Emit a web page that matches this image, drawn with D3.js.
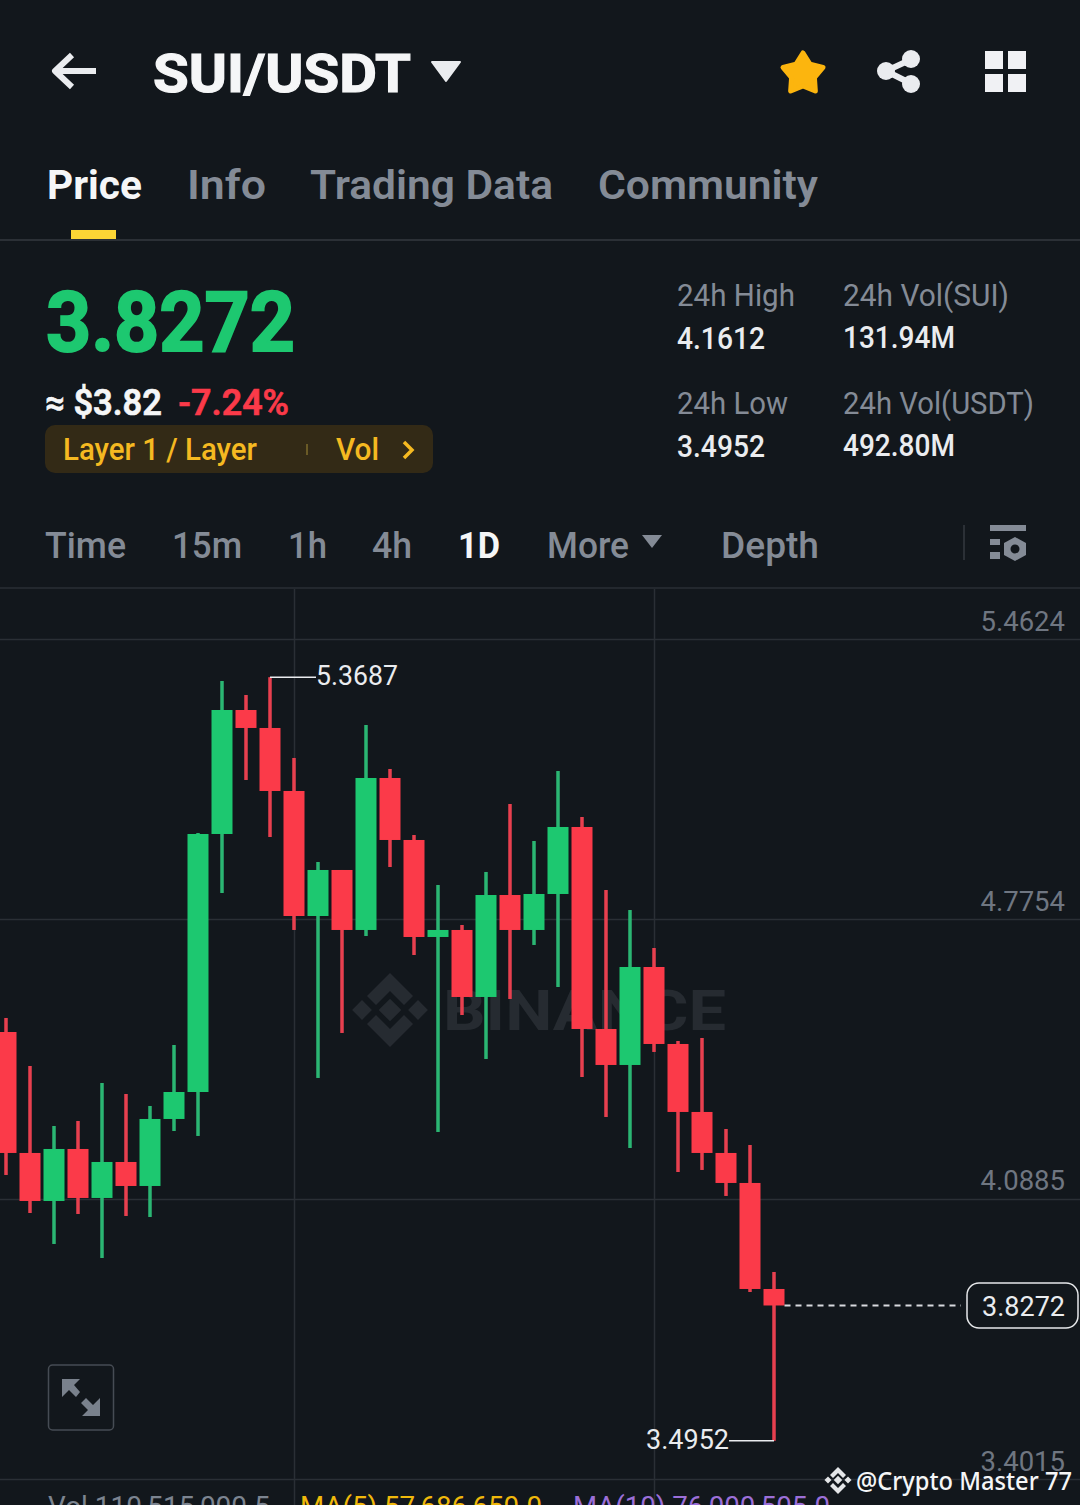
<!DOCTYPE html>
<html>
<head>
<meta charset="utf-8">
<script src="https://cdn.jsdelivr.net/npm/d3@7"></script>
<style>
html, body { margin: 0; padding: 0; background: #12171c; overflow: hidden; }
svg { display: block; }
text { font-family: Roboto, sans-serif; }
</style>
</head>
<body>
<svg></svg>
<script>
// prices, one entry per daily candle, left to right
const candleOpen = [4.4982, 4.2014, 4.0836, 4.2112, 4.0910, 4.1793, 4.1204, 4.2848, 4.3510, 4.9840, 5.2882, 5.2441, 5.0895,
  4.7828, 4.8957, 4.7485, 5.1214, 4.9693, 4.7313, 4.7485, 4.5841, 4.8343, 4.7485, 4.8368, 5.0012, 4.5056, 4.4173,
  4.6577, 4.4688, 4.3020, 4.2014, 4.1278, 3.8677];
const candleClose = [4.2014, 4.0836, 4.2112, 4.0910, 4.1793, 4.1204, 4.2848, 4.3510, 4.9840, 5.2882, 5.2441, 5.0895, 4.7828,
  4.8957, 4.7485, 5.1214, 4.9693, 4.7313, 4.7485, 4.5841, 4.8343, 4.7485, 4.8368, 5.0012, 4.5056, 4.4173, 4.6577,
  4.4688, 4.3020, 4.2014, 4.1278, 3.8677, 3.8272];
const candleHigh = [4.5326, 4.4148, 4.2676, 4.2799, 4.3731, 4.3461, 4.3167, 4.4663, 4.9864, 5.3594, 5.3250, 5.3687, 5.1705,
  4.9153, 4.8957, 5.2514, 5.1435, 4.9815, 4.8589, 4.7607, 4.8908, 5.0576, 4.9668, 5.1386, 5.0257, 4.8466, 4.7975,
  4.7043, 4.4761, 4.4835, 4.2602, 4.2210, 3.9094];
const candleLow = [4.1474, 4.0541, 3.9781, 4.0517, 3.9437, 4.0468, 4.0443, 4.2553, 4.2431, 4.8392, 5.1165, 4.9766, 4.7485,
  4.3854, 4.4958, 4.7337, 4.9030, 4.6871, 4.2529, 4.5399, 4.4320, 4.5792, 4.7117, 4.6086, 4.3878, 4.2897, 4.2136,
  4.4492, 4.1547, 4.1597, 4.0959, 3.8603, 3.4952];
const priceTicks = [5.4624, 4.7754, 4.0885, 3.4015];
const gridCandles = [12, 27]; // vertical grid lines sit on these candles
const lastPrice = 3.8272;
const highIndex = 11, lowIndex = 32;

const tabs = ["Price", "Info", "Trading Data", "Community"];
const intervals = ["Time", "15m", "1h", "4h", "1D", "More", "Depth"];
const statLabels = ["24h High", "24h Vol(SUI)", "24h Low", "24h Vol(USDT)"];
const statValues = ["4.1612", "131.94M", "3.4952", "492.80M"];

const up = "#1dc870", down = "#fb3a49", grey = "#848b96", white = "#eaecef", bg = "#12171c";

const svg = d3.select("svg").attr("width", 1080).attr("height", 1505);

const label = (t, x, y, size, weight, fill, len, parent) => {
  const n = (parent || svg).append("text").attr("x", x).attr("y", y)
    .attr("font-size", size).attr("font-weight", weight).attr("fill", fill).text(t);
  if (len) n.attr("textLength", len).attr("lengthAdjust", "spacingAndGlyphs");
  return n;
};

// header
svg.append("path").attr("d", "M54 71H96M72 55L55 71L72 87").attr("fill", "none").attr("stroke", white)
  .attr("stroke-width", 6).attr("stroke-linejoin", "round");
label("SUI/USDT", 153, 92, 54, 700, "#f5f6f7", 258).attr("stroke", "#f5f6f7").attr("stroke-width", 1.2);
svg.append("path").attr("d", "M432 62H460L446 81Z").attr("fill", white)
  .attr("stroke", white).attr("stroke-width", 2).attr("stroke-linejoin", "round");
// star
const star = d3.range(10).map(i => {
  const r = i % 2 ? 12 : 21, a = -Math.PI / 2 + i * Math.PI / 5;
  return [803 + r * Math.cos(a), 74 + r * Math.sin(a)];
});
svg.append("polygon").attr("points", star.join(" ")).attr("fill", "#fcb50e")
  .attr("stroke", "#fcb50e").attr("stroke-width", 5).attr("stroke-linejoin", "round");
// share
svg.append("path").attr("d", "M912 59L886 71L912 84").attr("fill", "none").attr("stroke", white).attr("stroke-width", 6);
svg.selectAll("circle.share").data([[911, 59], [886, 71], [911, 84]]).enter().append("circle")
  .attr("cx", d => d[0]).attr("cy", d => d[1]).attr("r", 9).attr("fill", white);
// grid icon
svg.selectAll("rect.cell").data([[985, 51], [1008, 51], [985, 74], [1008, 74]]).enter().append("rect")
  .attr("x", d => d[0]).attr("y", d => d[1]).attr("width", 18).attr("height", 18).attr("fill", "#f0f1f4");

// tabs
label(tabs[0], 47, 199, 41, 700, "#f5f6f7", 95);
label(tabs[1], 187, 199, 41, 600, grey, 79);
label(tabs[2], 310, 199, 41, 600, grey, 243);
label(tabs[3], 598, 199, 41, 600, grey, 220);
svg.append("rect").attr("x", 71).attr("y", 230).attr("width", 45).attr("height", 9).attr("fill", "#fcd535");
svg.append("rect").attr("x", 0).attr("y", 239).attr("width", 1080).attr("height", 2).attr("fill", "#2b3036");

// price block
label("3.8272", 46, 351, 84, 700, up, 249).attr("stroke", up).attr("stroke-width", 2);
label("≈ $3.82", 45, 415, 36, 600, "#f5f6f7", 117).attr("stroke", "#f5f6f7").attr("stroke-width", 0.6);
label("-7.24%", 178, 415, 36, 600, down, 111).attr("stroke", down).attr("stroke-width", 0.6);
svg.append("rect").attr("x", 45).attr("y", 425).attr("width", 388).attr("height", 48).attr("rx", 10).attr("fill", "#332a16");
label("Layer 1 / Layer", 63, 460, 31, 500, "#f5b921", 194);
svg.append("rect").attr("x", 306).attr("y", 444).attr("width", 2).attr("height", 11).attr("fill", "#6a5a26");
label("Vol", 336, 460, 31, 500, "#f5b921", 43);
svg.append("path").attr("d", "M404 442L412 450L404 458").attr("fill", "none").attr("stroke", "#f5b921").attr("stroke-width", 3.5);

// 24h stats
label(statLabels[0], 677, 306, 31, 400, grey, 118);
label(statLabels[1], 843, 306, 31, 400, grey, 166);
label(statLabels[2], 677, 414, 31, 400, grey, 111);
label(statLabels[3], 843, 414, 31, 400, grey, 191);
label(statValues[0], 677, 349, 31, 500, white, 88);
label(statValues[1], 843, 348, 31, 500, white, 112);
label(statValues[2], 677, 457, 31, 500, white, 88);
label(statValues[3], 843, 456, 31, 500, white, 112);

// interval row
label(intervals[0], 45, 558, 36, 500, grey, 81);
label(intervals[1], 172, 558, 36, 500, grey, 70);
label(intervals[2], 288, 558, 36, 500, grey, 39);
label(intervals[3], 372, 558, 36, 500, grey, 40);
label(intervals[4], 458, 558, 36, 700, "#f5f6f7", 42);
label(intervals[5], 547, 558, 36, 500, grey, 82);
svg.append("path").attr("d", "M642 535H662L652 548Z").attr("fill", grey);
label(intervals[6], 721, 558, 36, 500, grey, 98);
svg.append("rect").attr("x", 963).attr("y", 525).attr("width", 2).attr("height", 35).attr("fill", "#2b3036");
svg.append("rect").attr("x", 990).attr("y", 525).attr("width", 36).attr("height", 6).attr("fill", grey);
svg.append("rect").attr("x", 990).attr("y", 539).attr("width", 10).attr("height", 6).attr("fill", grey);
svg.append("rect").attr("x", 990).attr("y", 552).attr("width", 10).attr("height", 7).attr("fill", grey);
svg.append("polygon").attr("points", "1015,537 1026,543 1026,555 1015,561 1004,555 1004,543").attr("fill", grey);
svg.append("circle").attr("cx", 1015).attr("cy", 549).attr("r", 4.5).attr("fill", bg);
svg.append("rect").attr("x", 0).attr("y", 587).attr("width", 1080).attr("height", 2).attr("fill", "#23282e");

// scales
const x = d3.scaleLinear().domain([0, 32]).range([6, 774]);
const y = d3.scaleLinear().domain([priceTicks[3], priceTicks[0]]).range([1479, 639]);

// vertical grid
const xAxis = svg.append("g").attr("transform", "translate(0,589)")
  .call(d3.axisBottom(x).tickValues(gridCandles).tickSize(916).tickFormat(""));
xAxis.select(".domain").remove();
xAxis.selectAll("line").attr("stroke", "#2a2f35").attr("stroke-width", 1.5);

// horizontal grid + price labels
const yAxis = svg.append("g").attr("transform", "translate(1080,0)")
  .call(d3.axisLeft(y).tickValues(priceTicks).tickSize(1080).tickFormat(d3.format(".4f")));
yAxis.select(".domain").remove();
yAxis.selectAll("line").attr("stroke", "#2a2f35").attr("stroke-width", 1.5);
yAxis.selectAll("text").attr("x", -15).attr("dy", -9).attr("text-anchor", "end")
  .attr("font-size", 27.5).attr("font-family", "Roboto, sans-serif").attr("fill", "#6f7681");

// binance watermark, under the candles
const wm = svg.append("g").attr("fill", "#262b31");
wm.append("rect").attr("x", -8).attr("y", -8).attr("width", 16).attr("height", 16).attr("transform", "translate(390,1010) rotate(45)");
wm.append("rect").attr("x", -7).attr("y", -7).attr("width", 14).attr("height", 14).attr("transform", "translate(362,1010) rotate(45)");
wm.append("rect").attr("x", -7).attr("y", -7).attr("width", 14).attr("height", 14).attr("transform", "translate(418,1010) rotate(45)");
wm.append("path").attr("d", "M390 973L413 996L404 1005L390 991L376 1005L367 996Z");
wm.append("path").attr("d", "M390 1047L413 1024L404 1015L390 1029L376 1015L367 1024Z");
label("BINANCE", 443, 1030, 56, 700, "#262b31", 283);

// candles
const idx = d3.range(candleOpen.length);
const isUp = i => candleClose[i] >= candleOpen[i];
svg.append("g").selectAll("rect").data(idx).enter().append("rect")
  .attr("x", i => x(i) - 1.75).attr("width", 3.5)
  .attr("y", i => y(candleHigh[i]))
  .attr("height", i => y(candleLow[i]) - y(candleHigh[i]))
  .attr("fill", i => isUp(i) ? "#2bb673" : "#e8404f");
svg.append("g").selectAll("rect").data(idx).enter().append("rect")
  .attr("x", i => x(i) - 10.5).attr("width", 21)
  .attr("y", i => y(Math.max(candleOpen[i], candleClose[i])))
  .attr("height", i => Math.abs(y(candleOpen[i]) - y(candleClose[i])))
  .attr("fill", i => isUp(i) ? up : down);

// high / low markers
const hi = candleHigh[highIndex], lo = candleLow[lowIndex];
svg.append("line").attr("x1", x(highIndex)).attr("x2", 316).attr("y1", y(hi)).attr("y2", y(hi)).attr("stroke", white).attr("stroke-width", 1.5);
label(hi.toFixed(4), 316, y(hi) + 8, 28, 400, white, 82);
svg.append("line").attr("x1", 729).attr("x2", x(lowIndex)).attr("y1", y(lo)).attr("y2", y(lo)).attr("stroke", white).attr("stroke-width", 1.5);
label(lo.toFixed(4), 646, y(lo) + 8.5, 28, 400, white, 83);

// last price
svg.append("line").attr("x1", x(lowIndex) + 10.5).attr("x2", 961).attr("y1", y(lastPrice)).attr("y2", y(lastPrice))
  .attr("stroke", "#d8dade").attr("stroke-width", 2).attr("stroke-dasharray", "6 5");
svg.append("rect").attr("x", 967).attr("y", y(lastPrice) - 22.5).attr("width", 111).attr("height", 45).attr("rx", 12)
  .attr("fill", bg).attr("stroke", "#e6e8ea").attr("stroke-width", 1.5);
label(lastPrice.toFixed(4), 982, y(lastPrice) + 11, 28, 400, white, 83);

// expand button
svg.append("rect").attr("x", 48.5).attr("y", 1365).attr("width", 65).attr("height", 65).attr("rx", 4)
  .attr("fill", "none").attr("stroke", "#464c54").attr("stroke-width", 1.5);
svg.append("path").attr("d", "M62 1379H80L74 1385L80 1392L76 1397L69 1390L62 1397Z").attr("fill", "#79818c");
svg.append("path").attr("d", "M100 1416H82L88 1410L81 1403L86 1398L93 1405L100 1398Z").attr("fill", "#79818c");

// volume line, cut off by the bottom edge
label("Vol 110,515,000.5", 48, 1516, 27, 400, "#7c8490", 222);
label("MA(5) 57,686,650.0", 300, 1516, 27, 400, "#f0b90b", 242);
label("MA(10) 76,000,505.0", 573, 1516, 27, 400, "#9b6fd8", 257);

// credit
const logo = svg.append("g").attr("fill", "#e4e6e8");
logo.append("rect").attr("x", -3).attr("y", -3).attr("width", 6).attr("height", 6).attr("transform", "translate(838,1480) rotate(45)");
logo.append("rect").attr("x", -2.5).attr("y", -2.5).attr("width", 5).attr("height", 5).attr("transform", "translate(828,1480) rotate(45)");
logo.append("rect").attr("x", -2.5).attr("y", -2.5).attr("width", 5).attr("height", 5).attr("transform", "translate(848,1480) rotate(45)");
logo.append("path").attr("d", "M838 1467L846 1475L843 1478L838 1473L833 1478L830 1475Z");
logo.append("path").attr("d", "M838 1494L846 1486L843 1483L838 1488L833 1483L830 1486Z");
label("@Crypto Master 77", 856, 1490, 25, 500, "#f5f6f7", 216).style("font-family", "'Noto Sans', sans-serif");
</script>
</body>
</html>
